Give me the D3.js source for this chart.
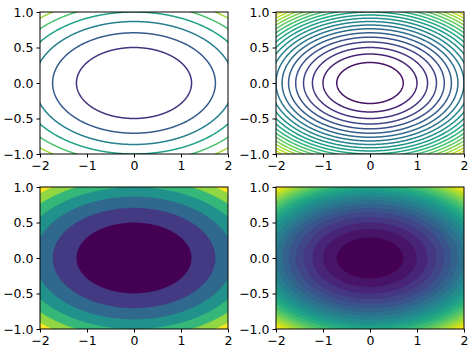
<!DOCTYPE html>
<html>
<head>
<meta charset="utf-8">
<script src="https://cdn.jsdelivr.net/npm/d3@7"></script>
<style>
  body { margin: 0; background: #fff; }
  svg text { font-family: "DejaVu Sans", sans-serif; }
</style>
</head>
<body>
<svg id="fig" width="474" height="353"></svg>
<script>
// axis ranges and ticks
const xDomain = [-2, 2];
const yDomain = [-1, 1];
const xTicks = [-2, -1, 0, 1, 2];
const yTicks = [-1.0, -0.5, 0.0, 0.5, 1.0];

// plotted surface z = coefX*x^2 + coefY*y^2 (ellipse axes)
const coefX = 1;
const coefY = 6;

// contour levels: default (7) and 20-level versions
const levelsCoarse = [0, 1.5, 3, 4.5, 6, 7.5, 9, 10.5];
const levelsFine = [0, 0.5, 1, 1.5, 2, 2.5, 3, 3.5, 4, 4.5, 5, 5.5, 6, 6.5, 7, 7.5, 8, 8.5, 9, 9.5, 10];

const panels = [
  {left: 40,  top: 12,  levels: levelsCoarse, filled: false},
  {left: 276, top: 12,  levels: levelsFine,   filled: false},
  {left: 40,  top: 187, levels: levelsCoarse, filled: true},
  {left: 276, top: 187, levels: levelsFine,   filled: true}
];
const panelW = 188, panelH = 142;

// sample grid, a bit wider than the axes so clipped rings end outside
const step = 0.01;
const gx0 = -2.6, gy0 = -1.3;
const nx = 521, ny = 261;
const grid = new Float64Array(nx * ny);
for (let j = 0; j < ny; j++) {
  for (let i = 0; i < nx; i++) {
    const gx = gx0 + i * step, gy = gy0 + j * step;
    grid[i + j * nx] = coefX * gx * gx + coefY * gy * gy;
  }
}

const svg = d3.select('#fig');

panels.forEach((p, k) => {
  const x = d3.scaleLinear().domain(xDomain).range([0, panelW]);
  const y = d3.scaleLinear().domain(yDomain).range([panelH, 0]);

  const g = svg.append('g').attr('transform', `translate(${p.left},${p.top})`);

  g.append('clipPath').attr('id', `clip${k}`)
    .append('rect').attr('width', panelW).attr('height', panelH);

  // grid value (i, j) sits at contour coords (i + 0.5, j + 0.5)
  const proj = d3.geoTransform({
    point(cx, cy) {
      this.stream.point(x(gx0 + (cx - 0.5) * step), y(gy0 + (cy - 0.5) * step));
    }
  });
  const path = d3.geoPath(proj);
  const plot = g.append('g').attr('clip-path', `url(#clip${k})`);

  if (p.filled) {
    const mids = d3.pairs(p.levels, (a, b) => (a + b) / 2);
    const color = d3.scaleSequential(d3.interpolateViridis).domain(d3.extent(mids));
    const shapes = d3.contours().size([nx, ny]).thresholds(p.levels.slice(0, -1))(grid);
    plot.selectAll('path').data(shapes).join('path')
      .attr('d', path)
      .attr('fill', (d, i) => color(mids[i]))
      .attr('stroke', (d, i) => color(mids[i]))
      .attr('stroke-width', 0.3);
  } else {
    const color = d3.scaleSequential(d3.interpolateViridis).domain(d3.extent(p.levels));
    const lines = d3.contours().size([nx, ny]).thresholds(p.levels.filter(v => v > 0))(grid);
    plot.selectAll('path').data(lines).join('path')
      .attr('d', path)
      .attr('fill', 'none')
      .attr('stroke', d => color(d.value))
      .attr('stroke-width', 1.5);
  }

  // axes
  const xAxis = d3.axisBottom(x).tickValues(xTicks).tickFormat(d3.format('d'))
      .tickSize(3.5).tickPadding(3.5);
  const yAxis = d3.axisLeft(y).tickValues(yTicks).tickFormat(d3.format('.1f'))
      .tickSize(3.5).tickPadding(3);

  g.append('g').attr('transform', `translate(0,${panelH})`)
    .call(xAxis)
    .call(a => a.select('.domain').remove());
  g.append('g')
    .call(yAxis)
    .call(a => a.select('.domain').remove());
  g.selectAll('.tick text').attr('font-size', 12.5).attr('fill', '#000')
    .attr('font-family', '"DejaVu Sans", sans-serif');
  g.selectAll('.tick line').attr('stroke', '#000').attr('stroke-width', 1);

  g.append('rect')
    .attr('width', panelW).attr('height', panelH)
    .attr('fill', 'none').attr('stroke', '#000').attr('stroke-width', 1);
});
</script>
</body>
</html>
